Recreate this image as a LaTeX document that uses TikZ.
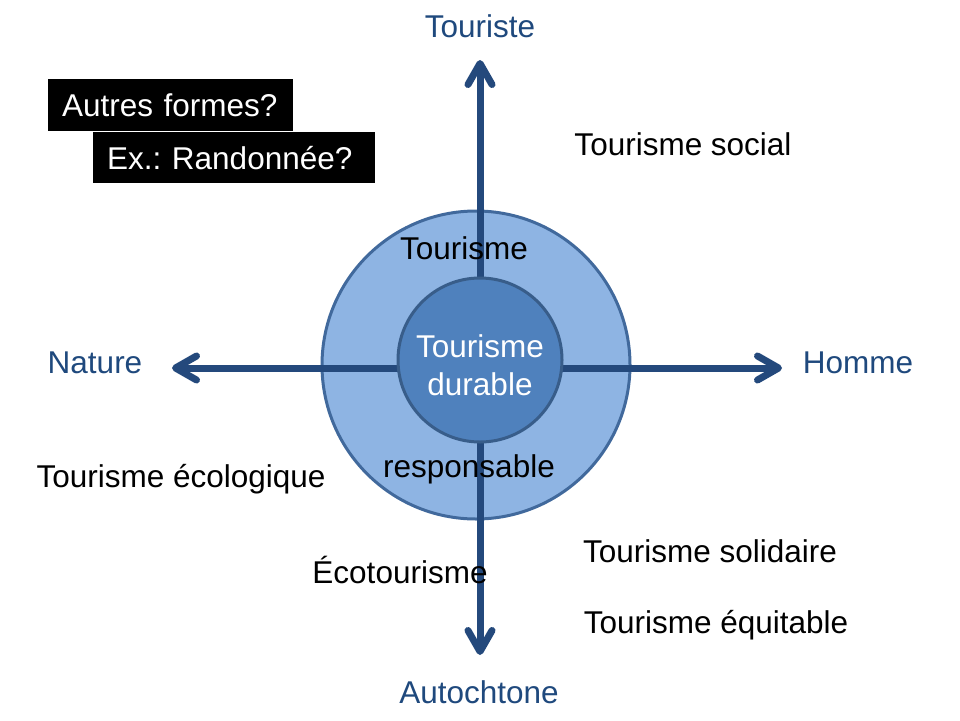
\documentclass[tikz,border=0pt]{standalone}
\usepackage{fontspec}
\setmainfont{Liberation Sans}
\usetikzlibrary{arrows.meta}
\definecolor{axisblue}{HTML}{24497C}
\definecolor{labelblue}{HTML}{1F497D}
\definecolor{ringfill}{HTML}{8EB4E3}
\definecolor{ringline}{HTML}{41699C}
\definecolor{corefill}{HTML}{4F81BD}
\definecolor{coreline}{HTML}{385D8A}
\frenchspacing

\begin{document}
\begin{tikzpicture}[x=1pt,y=-1pt]
	\tikzset{
		txt/.style={font=\fontsize{31.5}{38}\selectfont,inner sep=0pt,anchor=base},
		pole/.style={txt,text=labelblue},
		tag/.style={font=\fontsize{31.5}{38}\selectfont,fill=black,text=white,
			anchor=north west,inner xsep=14pt,inner ysep=0pt,align=left},
		axis/.style={draw=axisblue,line width=7pt,
			-{Straight Barb[round,length=21pt,width=24pt]}}}
	\useasboundingbox (0,0) rectangle (960,720);
	\node[circle,draw=ringline,fill=ringfill,line width=3pt,minimum size=308pt](ring) at (476,365){};
	\coordinate (o) at (480,368);
	\coordinate (up) at (480,60);
	\coordinate (dn) at (480,655);
	\coordinate (lt) at (172,368);
	\coordinate (rt) at (782,368);
	\draw[axis](o)--(up);
	\draw[axis](o)--(dn);
	\draw[axis](o)--(lt);
	\draw[axis](o)--(rt);
	\node[circle,draw=coreline,fill=corefill,line width=3pt,minimum size=164pt](core) at (480,360){};
	\node[txt,anchor=center,align=center,text=white](dur) at (480,365){Tourisme\\durable};
	% poles
	\node[pole](tou) at (480,37){Touriste};
	\node[pole](aut) at (479,703){Autochtone};
	\node[pole](nat) at (95,373){Nature};
	\node[pole](hom) at (858,373){Homme};
	% forms
	\node[txt](t1) at (464,259){Tourisme};
	\node[txt](t2) at (469,477){responsable};
	\node[txt](soc) at (683,155){Tourisme social};
	\node[txt](eco) at (181,487){Tourisme écologique};
	\node[txt](ect) at (400,583){Écotourisme};
	\node[txt](sol) at (710,562){Tourisme solidaire};
	\node[txt](equ) at (716,633){Tourisme équitable};
	\node[tag,text width=217pt,minimum height=52pt](a) at (48,79){Autres formes?};
	\node[tag,text width=254pt,minimum height=51pt](b) at (93,132){Ex.: Randonnée?};
\end{tikzpicture}
\end{document}
